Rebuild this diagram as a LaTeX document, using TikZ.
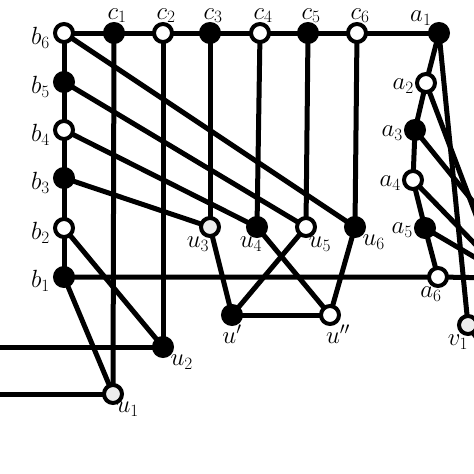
\documentclass[tikz,border=0pt]{standalone}
\usepackage{tikz}
\tikzset{
	lab/.style={font=\fontsize{26}{30}\selectfont, inner sep=1pt},
	wnode/.style={circle, draw, line width=4pt, fill=white, minimum size=18pt, inner sep=0pt, outer sep=0pt},
	gnode/.style={wnode, fill=black!7},
	bnode/.style={wnode, fill=black},
	link/.style={line width=5pt}
}
\begin{document}
\begin{tikzpicture}[x=1pt, y=-1pt]
		%%%%% FRAME %%%%%
		\useasboundingbox (0,0) rectangle (474,474);
		\clip (0,0) rectangle (474,474);
		
		%%%%% LEFT COLUMN %%%%%
		\node[wnode, label={[lab, label distance=4pt, yshift=-5pt]left:$b_6$}] (b6) at (64,33) {};
		\node[bnode, label={[lab, label distance=4pt, yshift=-5pt]left:$b_5$}] (b5) at (64,82) {};
		\node[wnode, label={[lab, label distance=4pt, yshift=-5pt]left:$b_4$}] (b4) at (64,130) {};
		\node[bnode, label={[lab, label distance=4pt, yshift=-5pt]left:$b_3$}] (b3) at (64,178) {};
		\node[wnode, label={[lab, label distance=4pt, yshift=-5pt]left:$b_2$}] (b2) at (64,228) {};
		\node[bnode, label={[lab, label distance=4pt, yshift=-4pt]left:$b_1$}] (b1) at (64,277) {};
		
		%%%%% TOP ROW %%%%%
		\node[bnode, label={[lab, xshift=3pt]above:$c_1$}] (c1) at (114,33) {};
		\node[wnode, label={[lab, xshift=3pt]above:$c_2$}] (c2) at (163,33) {};
		\node[bnode, label={[lab, xshift=3pt]above:$c_3$}] (c3) at (210,33) {};
		\node[wnode, label={[lab, xshift=3pt]above:$c_4$}] (c4) at (260,33) {};
		\node[bnode, label={[lab, xshift=3pt]above:$c_5$}] (c5) at (308,33) {};
		\node[wnode, label={[lab, xshift=3pt]above:$c_6$}] (c6) at (357,33) {};
		\node[bnode, label={[lab]above left:$a_1$}] (a1) at (439,33) {};
		
		%%%%% RIGHT COLUMN %%%%%
		\node[wnode, label={[lab, label distance=2pt, yshift=-3pt]left:$a_2$}] (a2) at (426,83) {};
		\node[bnode, label={[lab, label distance=2pt, yshift=-3pt]left:$a_3$}] (a3) at (415,130) {};
		\node[wnode, label={[lab, label distance=2pt, yshift=-3pt]left:$a_4$}] (a4) at (413,180) {};
		\node[bnode, label={[lab, label distance=2pt, yshift=-2pt]left:$a_5$}] (a5) at (425,228) {};
		\node[wnode, label={[lab, xshift=-7pt]below:$a_6$}] (a6) at (438,277) {};
		\node[gnode, label={[lab, xshift=-10pt]below:$v_1$}] (v1) at (468,325) {};
		
		%%%%% MIDDLE %%%%%
		\node[gnode, label={[lab, xshift=-12pt]below:$u_3$}] (u3) at (210,227) {};
		\node[bnode, label={[lab, xshift=-6pt]below:$u_4$}] (u4) at (257,227) {};
		\node[wnode, label={[lab, xshift=14pt]below:$u_5$}] (u5) at (306,227) {};
		\node[bnode, label={[lab]below right:$u_6$}] (u6) at (355,227) {};
		\node[bnode, label={[lab]below:$u'$}] (up) at (232,315) {};
		\node[wnode, label={[lab, xshift=8pt]below:$u''$}] (upp) at (330,315) {};
		\node[bnode, label={[lab]below right:$u_2$}] (u2) at (163,347) {};
		\node[gnode, label={[lab, xshift=-4pt]below right:$u_1$}] (u1) at (113,394) {};
		
		%%%%% LOOSE ENDS %%%%%
		\coordinate (l1) at (-10,394);
		\coordinate (l2) at (-10,347);
		\coordinate (r2) at (493,260);
		\coordinate (r3) at (504,240);
		\coordinate (r4) at (505,275);
		\coordinate (r5) at (510,278);
		\coordinate (r6) at (500,278);
		\coordinate (rv) at (495,365);
		
		%%%%% EDGES %%%%%
		\draw[link] (b6) -- (c1) -- (c2) -- (c3) -- (c4) -- (c5) -- (c6) -- (a1);
		\draw[link] (b6) -- (b5) -- (b4) -- (b3) -- (b2) -- (b1);
		\draw[link] (a1) -- (a2) -- (a3) -- (a4) -- (a5) -- (a6);
		
		\draw[link] (c1) -- (u1);
		\draw[link] (c2) -- (u2);
		\draw[link] (c3) -- (u3);
		\draw[link] (c4) -- (u4);
		\draw[link] (c5) -- (u5);
		\draw[link] (c6) -- (u6);
		
		\draw[link] (b6) -- (u6);
		\draw[link] (b5) -- (u5);
		\draw[link] (b4) -- (u4);
		\draw[link] (b3) -- (u3);
		\draw[link] (b2) -- (u2);
		\draw[link] (b1) -- (u1);
		
		\draw[link] (u3) -- (up);
		\draw[link] (u5) -- (up);
		\draw[link] (u4) -- (upp);
		\draw[link] (u6) -- (upp);
		\draw[link] (up) -- (upp);
		
		\draw[link] (b1) -- (a6) -- (r6);
		\draw[link] (u2) -- (l2);
		\draw[link] (u1) -- (l1);
		
		\draw[link] (a1) -- (v1) -- (rv);
		\draw[link] (a2) -- (r2);
		\draw[link] (a3) -- (r3);
		\draw[link] (a4) -- (r4);
		\draw[link] (a5) -- (r5);
		
		%%%%% END %%%%%
\end{tikzpicture}
\end{document}
